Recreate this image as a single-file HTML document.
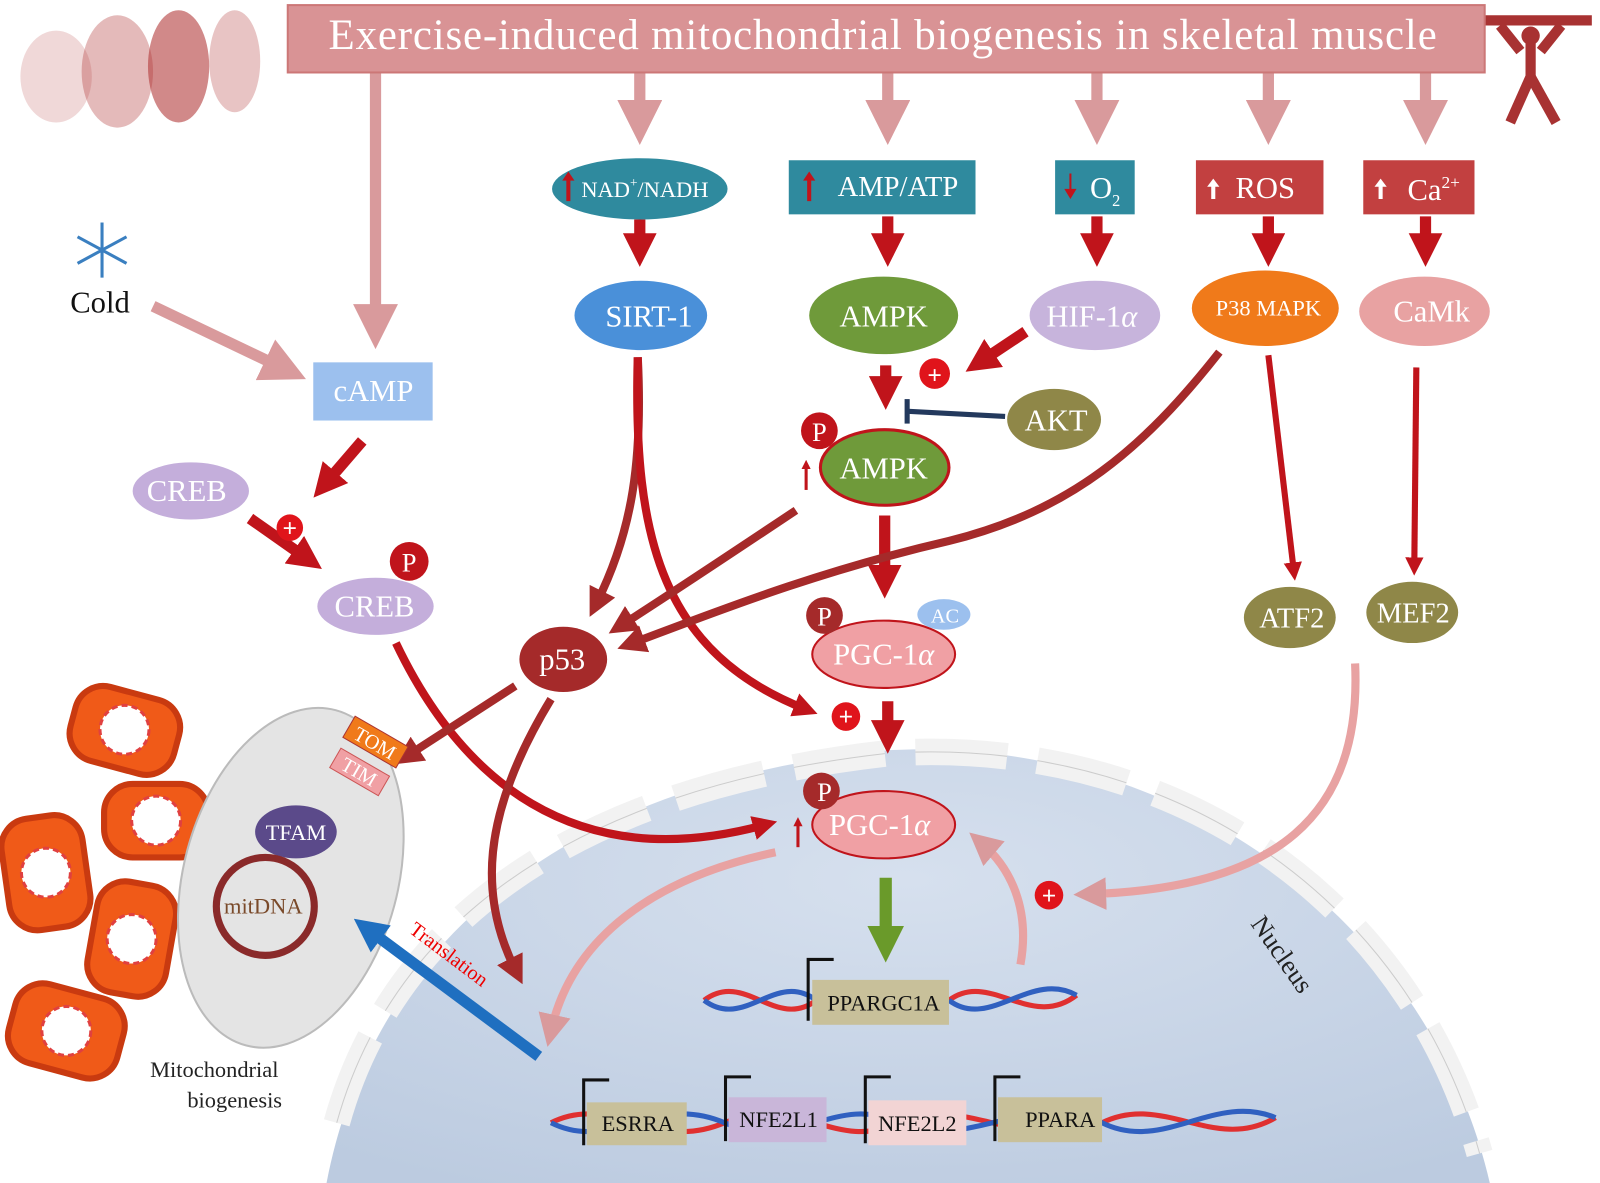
<!DOCTYPE html>
<html><head><meta charset="utf-8"><style>
html,body{margin:0;padding:0;background:#fff;}
svg{display:block;font-family:"Liberation Serif",serif;}
</style></head><body>
<svg width="1600" height="1183" viewBox="0 0 1568 1159" preserveAspectRatio="none" xmlns="http://www.w3.org/2000/svg">
<defs>
<marker id="pk" markerWidth="4" markerHeight="4" refX="2" refY="2" orient="auto" markerUnits="strokeWidth"><path d="M0,0L4,2L0,4Z" fill="#d99a9c"/></marker>
<marker id="rd" markerWidth="3" markerHeight="3" refX="1.5" refY="1.5" orient="auto" markerUnits="strokeWidth"><path d="M0,0L3,1.5L0,3Z" fill="#c0141b"/></marker>
<marker id="dr" markerWidth="3.5" markerHeight="3.5" refX="1.5" refY="1.75" orient="auto" markerUnits="strokeWidth"><path d="M0,0L3.5,1.75L0,3.5Z" fill="#a52a2a"/></marker>
<marker id="bl" markerWidth="3" markerHeight="3" refX="1.5" refY="1.5" orient="auto" markerUnits="strokeWidth"><path d="M0,0L3,1.5L0,3Z" fill="#1f6fc0"/></marker>
<marker id="gr" markerWidth="3" markerHeight="3" refX="1.5" refY="1.5" orient="auto" markerUnits="strokeWidth"><path d="M0,0L3,1.5L0,3Z" fill="#6a9a2a"/></marker>
<radialGradient id="nuc" cx="0.5" cy="0.3" r="0.8"><stop offset="0" stop-color="#d6e0ee"/><stop offset="1" stop-color="#bccbe0"/></radialGradient>
</defs>
<path d="M320,1159 C360,950 520,770 870,735 C1150,720 1400,900 1460,1159 Z" fill="url(#nuc)"/>
<path d="M330,1100 C380,920 540,775 870,738 C1150,720 1380,880 1450,1130" fill="none" stroke="#f2f2f2" stroke-width="26" stroke-dasharray="90,30"/>
<path d="M330,1100 C380,920 540,775 870,738 C1150,720 1380,880 1450,1130" fill="none" stroke="#ccc" stroke-width="1" stroke-dasharray="90,30"/>
<text x="1225" y="905" font-size="26" transform="rotate(55 1225 905)" fill="#222">Nucleus</text>
<g fill="#b33a3a">
<ellipse cx="55" cy="75" rx="35" ry="45" opacity="0.2"/><ellipse cx="115" cy="70" rx="35" ry="55" opacity="0.35"/><ellipse cx="175" cy="65" rx="30" ry="55" opacity="0.6"/><ellipse cx="230" cy="60" rx="25" ry="50" opacity="0.3"/>
</g>
<g stroke="#a83232" stroke-width="10" fill="none"><line x1="1445" y1="20" x2="1560" y2="20"/><line x1="1500" y1="30" x2="1500" y2="80"/><line x1="1500" y1="75" x2="1480" y2="120"/><line x1="1500" y1="75" x2="1525" y2="120"/><line x1="1470" y1="25" x2="1490" y2="50"/><line x1="1530" y1="25" x2="1510" y2="50"/></g>
<circle cx="1500" cy="35" r="9" fill="#a83232"/>
<rect x="282" y="5" width="1173" height="66" fill="#d99395" stroke="#c77" stroke-width="2"/>
<text x="865" y="48" font-size="42" fill="#fff" text-anchor="middle" textLength="1086">Exercise-induced mitochondrial biogenesis in skeletal muscle</text>
<g stroke="#d99a9c" stroke-width="11" fill="none" marker-end="url(#pk)">
<line x1="368" y1="72" x2="368" y2="320"/>
<line x1="627" y1="72" x2="627" y2="120"/><line x1="870" y1="72" x2="870" y2="120"/><line x1="1075" y1="72" x2="1075" y2="120"/><line x1="1243" y1="72" x2="1243" y2="120"/><line x1="1397" y1="72" x2="1397" y2="120"/>
<line x1="150" y1="300" x2="280" y2="362"/>
</g>
<ellipse cx="627" cy="185" rx="86" ry="30" fill="#2f8a9e"/>
<text x="632" y="193" font-size="22" fill="#fff" text-anchor="middle">NAD<tspan font-size="13" dy="-10">+</tspan><tspan dy="10">/NADH</tspan></text>
<rect x="773" y="157" width="183" height="53" fill="#2f8a9e"/><text x="880" y="192" font-size="28" fill="#fff" text-anchor="middle">AMP/ATP</text>
<rect x="1034" y="157" width="78" height="53" fill="#2f8a9e"/><text x="1083" y="194" font-size="30" fill="#fff" text-anchor="middle">O<tspan font-size="16" dy="8">2</tspan></text>
<rect x="1172" y="157" width="125" height="53" fill="#c24040"/><text x="1240" y="194" font-size="30" fill="#fff" text-anchor="middle">ROS</text>
<rect x="1336" y="157" width="109" height="53" fill="#c24040"/><text x="1405" y="196" font-size="30" fill="#fff" text-anchor="middle">Ca<tspan font-size="17" dy="-12">2+</tspan></text>
<g fill="#c0141b"><path d="M557,168l-6,9h4v20h4v-20h4z"/><path d="M793,168l-6,9h4v20h4v-20h4z"/></g>
<g fill="#fff"><path d="M1189,175l-6,8h4v12h4v-12h4z"/><path d="M1353,175l-6,8h4v12h4v-12h4z"/></g>
<path d="M1048,170v15h-5l6,10l6-10h-5v-15z" fill="#c0141b"/>
<g stroke="#c0141b" stroke-width="11" marker-end="url(#rd)">
<line x1="627" y1="215" x2="627" y2="245"/><line x1="870" y1="212" x2="870" y2="245"/><line x1="1075" y1="212" x2="1075" y2="245"/><line x1="1243" y1="212" x2="1243" y2="245"/><line x1="1397" y1="212" x2="1397" y2="245"/>
<line x1="868" y1="358" x2="868" y2="385"/><line x1="1005" y1="325" x2="960" y2="355"/>
<line x1="355" y1="432" x2="318" y2="475"/><line x1="245" y1="508" x2="302" y2="548"/>
<line x1="867" y1="505" x2="867" y2="570"/><line x1="870" y1="687" x2="870" y2="722"/>
</g>
<ellipse cx="628" cy="309" rx="65" ry="34" fill="#4a90d9"/><text x="636" y="320" font-size="30" fill="#fff" text-anchor="middle">SIRT-1</text>
<ellipse cx="866" cy="309" rx="73" ry="38" fill="#6f9a3a"/><text x="866" y="320" font-size="30" fill="#fff" text-anchor="middle">AMPK</text>
<ellipse cx="1073" cy="309" rx="64" ry="34" fill="#c7b4dc"/><text x="1070" y="320" font-size="30" fill="#fff" text-anchor="middle">HIF-1<tspan font-style="italic">α</tspan></text>
<ellipse cx="1240" cy="302" rx="72" ry="37" fill="#f07a1a"/><text x="1243" y="309" font-size="22" fill="#fff" text-anchor="middle">P38 MAPK</text>
<ellipse cx="1396" cy="305" rx="64" ry="34" fill="#e8a2a2"/><text x="1403" y="315" font-size="30" fill="#fff" text-anchor="middle">CaMk</text>
<g stroke="#3a7fc0" stroke-width="3"><line x1="100" y1="218" x2="100" y2="272"/><line x1="76" y1="232" x2="124" y2="258"/><line x1="76" y1="258" x2="124" y2="232"/></g>
<text x="98" y="306" font-size="30" fill="#111" text-anchor="middle">Cold</text>
<rect x="307" y="355" width="117" height="57" fill="#9cc0ee"/><text x="366" y="393" font-size="30" fill="#fff" text-anchor="middle">cAMP</text>
<ellipse cx="187" cy="481" rx="57" ry="28" fill="#c4aedb"/><text x="183" y="491" font-size="30" fill="#fff" text-anchor="middle">CREB</text>
<ellipse cx="368" cy="594" rx="57" ry="28" fill="#c4aedb"/><text x="367" y="604" font-size="30" fill="#fff" text-anchor="middle">CREB</text>
<circle cx="401" cy="550" r="19" fill="#c0141b"/><text x="401" y="560" font-size="26" fill="#fff" text-anchor="middle">P</text>
<line x1="985" y1="408" x2="890" y2="403" stroke="#23395d" stroke-width="5"/><line x1="889" y1="391" x2="889" y2="415" stroke="#23395d" stroke-width="5"/>
<ellipse cx="1033" cy="411" rx="46" ry="30" fill="#8f8748"/><text x="1035" y="422" font-size="30" fill="#fff" text-anchor="middle">AKT</text>
<g fill="none" stroke-width="8">
<path d="M625,350 C630,450 620,520 585,590" stroke="#a52a2a" marker-end="url(#dr)"/>
<path d="M625,350 C620,530 650,640 790,695" stroke="#c0141b" marker-end="url(#rd)"/>
<path d="M780,500 C720,540 660,580 610,612" stroke="#a52a2a" marker-end="url(#dr)"/>
<path d="M1195,345 C1120,440 1050,500 930,530 C800,560 700,600 620,630" stroke="#a52a2a" marker-end="url(#dr)"/>
<path d="M1243,348 L1268,560" stroke="#c0141b" stroke-width="6" marker-end="url(#rd)"/>
<path d="M1388,360 L1386,555" stroke="#c0141b" stroke-width="6" marker-end="url(#rd)"/>
<path d="M388,630 C450,760 560,860 750,808" stroke="#c0141b" marker-end="url(#rd)"/>
<path d="M505,672 L400,740" stroke="#a52a2a" marker-end="url(#dr)"/>
<path d="M540,685 C470,800 470,880 505,950" stroke="#a52a2a" marker-end="url(#dr)"/>
<path d="M1328,650 C1335,800 1250,870 1068,876" stroke="#e8a2a2" marker-end="url(#pk)"/>
<path d="M760,835 C640,860 560,920 540,1010" stroke="#e8a2a2" marker-end="url(#pk)"/>
<path d="M1000,945 C1010,890 990,850 962,826" stroke="#e8a2a2" marker-end="url(#pk)"/>
<path d="M868,860 L868,925" stroke="#6a9a2a" stroke-width="12" marker-end="url(#gr)"/>
</g>
<text x="400" y="913" font-size="20" fill="#e00" transform="rotate(37 400 913)">Translation</text>
<ellipse cx="867" cy="458" rx="63" ry="37" fill="#6f9a3a" stroke="#c0141b" stroke-width="3"/><text x="866" y="469" font-size="30" fill="#fff" text-anchor="middle">AMPK</text>
<circle cx="803" cy="422" r="18" fill="#c0141b"/><text x="803" y="432" font-size="26" fill="#fff" text-anchor="middle">P</text>
<line x1="790" y1="480" x2="790" y2="455" stroke="#c0141b" stroke-width="3" marker-end="url(#rd)"/>
<ellipse cx="866" cy="641" rx="70" ry="33" fill="#f0a0a4" stroke="#c0141b" stroke-width="2"/><text x="866" y="651" font-size="30" fill="#fff" text-anchor="middle">PGC-1<tspan font-style="italic">α</tspan></text>
<circle cx="808" cy="603" r="18" fill="#a52a2a"/><text x="808" y="613" font-size="26" fill="#fff" text-anchor="middle">P</text>
<ellipse cx="925" cy="602" rx="26" ry="15" fill="#9cc0ee"/><text x="926" y="610" font-size="20" fill="#fff" text-anchor="middle">AC</text>
<ellipse cx="552" cy="646" rx="43" ry="32" fill="#a52a2a"/><text x="551" y="656" font-size="30" fill="#fff" text-anchor="middle">p53</text>
<ellipse cx="1264" cy="605" rx="45" ry="30" fill="#8f8748"/><text x="1266" y="615" font-size="28" fill="#fff" text-anchor="middle">ATF2</text>
<ellipse cx="1384" cy="600" rx="45" ry="30" fill="#8f8748"/><text x="1385" y="610" font-size="28" fill="#fff" text-anchor="middle">MEF2</text>
<g fill="#e0141b"><circle cx="916" cy="366" r="15"/><circle cx="284" cy="517" r="13"/><circle cx="829" cy="702" r="14"/><circle cx="1028" cy="877" r="14"/></g>
<g fill="#fff" font-size="24" text-anchor="middle" font-family="Liberation Sans,sans-serif"><text x="916" y="375">+</text><text x="284" y="525">+</text><text x="829" y="710">+</text><text x="1028" y="885">+</text></g>
<ellipse cx="866" cy="808" rx="70" ry="33" fill="#f0a0a4" stroke="#c0141b" stroke-width="2"/><text x="862" y="818" font-size="30" fill="#fff" text-anchor="middle">PGC-1<tspan font-style="italic">α</tspan></text>
<circle cx="805" cy="775" r="18" fill="#a52a2a"/><text x="808" y="785" font-size="26" fill="#fff" text-anchor="middle">P</text>
<line x1="782" y1="830" x2="782" y2="805" stroke="#c0141b" stroke-width="3" marker-end="url(#rd)"/>
<g fill="none" stroke-width="5">
<path d="M690,980 C730,950 760,1010 800,980" stroke="#e03030"/><path d="M690,980 C730,1010 760,950 800,980" stroke="#3060c0"/>
<path d="M930,980 C970,950 1010,1010 1055,975" stroke="#e03030"/><path d="M930,980 C970,1010 1010,950 1055,975" stroke="#3060c0"/>
<path d="M540,1100 C600,1070 640,1130 710,1100 C780,1070 820,1130 880,1100 C940,1070 1000,1130 1080,1100 C1140,1070 1190,1130 1250,1095" stroke="#e03030"/>
<path d="M540,1100 C600,1130 640,1070 710,1100 C780,1130 820,1070 880,1100 C940,1130 1000,1070 1080,1100 C1140,1130 1190,1070 1250,1095" stroke="#3060c0"/>
</g>
<rect x="796" y="960" width="134" height="44" fill="#c8c09a"/><text x="866" y="990" font-size="22" fill="#111" text-anchor="middle">PPARGC1A</text>
<rect x="575" y="1080" width="98" height="42" fill="#c8c09a"/><text x="625" y="1108" font-size="22" fill="#111" text-anchor="middle">ESRRA</text>
<rect x="714" y="1075" width="96" height="44" fill="#c9b6d9"/><text x="763" y="1104" font-size="22" fill="#111" text-anchor="middle">NFE2L1</text>
<rect x="851" y="1078" width="96" height="44" fill="#f2d4d4"/><text x="899" y="1108" font-size="22" fill="#111" text-anchor="middle">NFE2L2</text>
<rect x="978" y="1075" width="102" height="44" fill="#c8c09a"/><text x="1039" y="1104" font-size="22" fill="#111" text-anchor="middle">PPARA</text>
<g fill="none" stroke="#111" stroke-width="3"><path d="M792,1000V940h25"/><path d="M572,1122V1058h25"/><path d="M711,1118V1055h25"/><path d="M848,1120V1055h25"/><path d="M975,1118V1055h25"/></g>
<g stroke="#c93a10" stroke-width="6">
<rect x="70" y="678" width="105" height="75" rx="28" transform="rotate(15 122 715)" fill="#f05a18"/>
<rect x="102" y="768" width="102" height="72" rx="28" fill="#f05a18"/>
<rect x="5" y="800" width="80" height="110" rx="28" transform="rotate(-8 45 855)" fill="#f05a18"/>
<rect x="90" y="865" width="78" height="110" rx="28" transform="rotate(10 129 920)" fill="#f05a18"/>
<rect x="10" y="970" width="110" height="80" rx="28" transform="rotate(15 65 1010)" fill="#f05a18"/>
</g>
<g fill="#fff" stroke="#e04040" stroke-width="3" stroke-dasharray="6,4"><circle cx="122" cy="715" r="24"/><circle cx="153" cy="804" r="24"/><circle cx="45" cy="855" r="24"/><circle cx="129" cy="920" r="24"/><circle cx="65" cy="1010" r="24"/></g>
<ellipse cx="285" cy="860" rx="105" ry="170" transform="rotate(15 285 860)" fill="#e4e4e4" stroke="#bbb" stroke-width="2"/>
<rect x="338" y="715" width="60" height="24" fill="#f07a1a" stroke="#a33" transform="rotate(30 368 727)"/><text x="368" y="735" font-size="20" fill="#fff" text-anchor="middle" transform="rotate(30 368 727)">TOM</text>
<rect x="325" y="745" width="55" height="22" fill="#f0a0a4" stroke="#c55" transform="rotate(30 352 756)"/><text x="352" y="763" font-size="20" fill="#fff" text-anchor="middle" transform="rotate(30 352 756)">TIM</text>
<ellipse cx="290" cy="815" rx="40" ry="26" fill="#5b4a8a"/><text x="290" y="823" font-size="22" fill="#fff" text-anchor="middle">TFAM</text>
<circle cx="260" cy="888" r="48" fill="none" stroke="#8a2a2a" stroke-width="7"/><text x="258" y="895" font-size="22" fill="#7a4a2a" text-anchor="middle">mitDNA</text>
<path d="M528,1035 L360,910" stroke="#1f6fc0" stroke-width="11" fill="none" marker-end="url(#bl)"/>
<text x="210" y="1055" font-size="22" fill="#222" text-anchor="middle">Mitochondrial</text>
<text x="230" y="1085" font-size="22" fill="#222" text-anchor="middle">biogenesis</text>
</svg>
</body></html>
